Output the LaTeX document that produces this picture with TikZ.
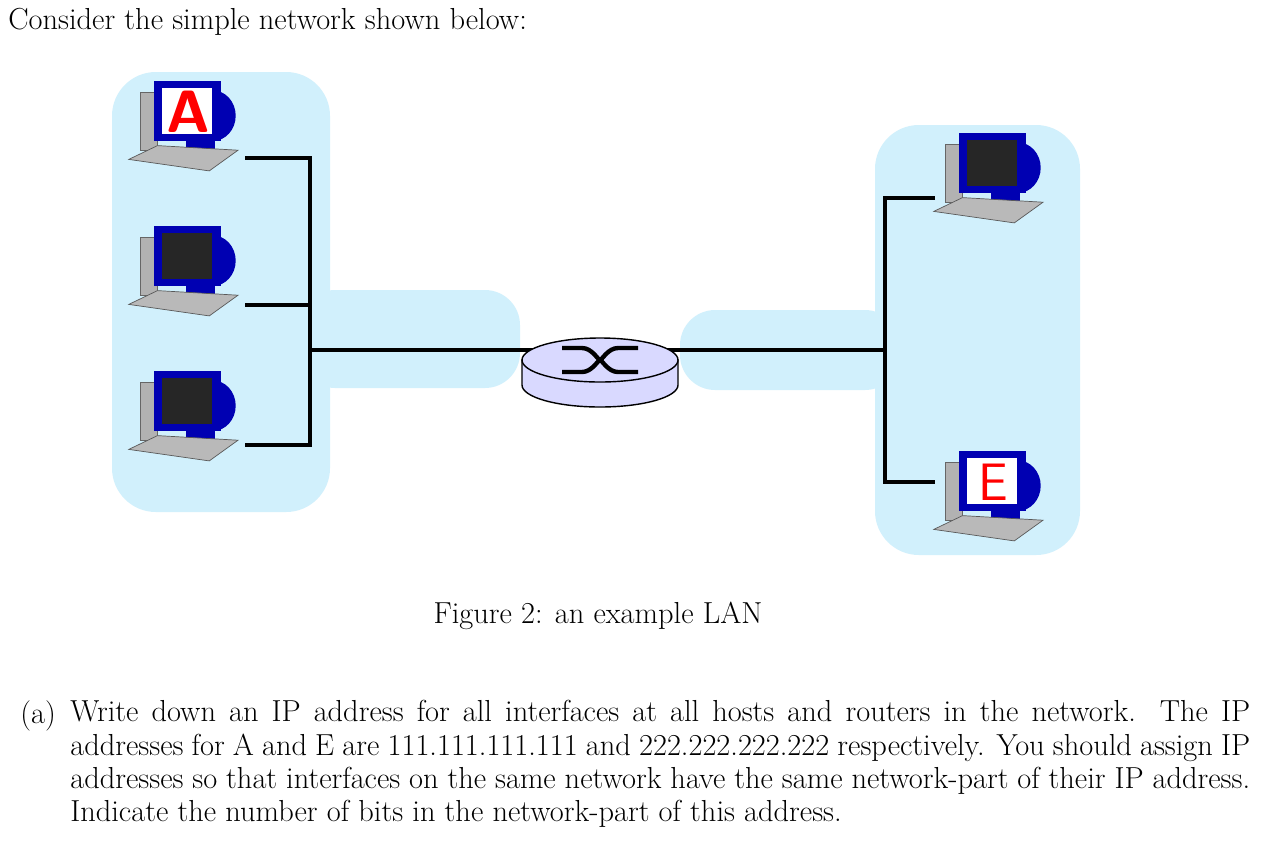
\documentclass[tikz,border=0pt]{standalone}
\usepackage{fontspec}
\begin{document}
\begin{tikzpicture}[x=0.02cm,y=-0.02cm,
  bus/.style={line width=2.2pt,black},
  blob/.style={fill=cyan!18,draw=none},
  txt/.style={font=\fontsize{17.3}{19}\selectfont,inner sep=0pt},
  pics/pc/.style={code={
    \fill[gray!60,draw=gray!80!black] (-45,-22) rectangle (-30,28);
    \fill[blue!70!black] (18,-24) arc (-90:90:20 and 22) -- cycle;
    \fill[blue!70!black] (-33,-32) rectangle (25,20);
    \fill[#1] (-26,-26) rectangle (17,14);
    \fill[blue!70!black] (-5,20) rectangle (20,30);
    \fill[gray!55,draw=gray!70!black] (-55,36) -- (-30,24) -- (40,28) -- (15,46) -- cycle;
  }}]
\useasboundingbox (0,0) rectangle (1274,860);
\fill[white] (0,0) rectangle (1274,860);
% blobs
\fill[blob,rounded corners=25] (112,72) rectangle (330,512);
\fill[blob,rounded corners=20] (300,290) rectangle (520,388);
\fill[blob,rounded corners=25] (875,125) rectangle (1080,555);
\fill[blob,rounded corners=20] (680,310) rectangle (900,390);
% nodes
\coordinate (a) at (245,158); \coordinate (b) at (245,305); \coordinate (c) at (245,445);
\coordinate (d) at (935,198); \coordinate (e) at (935,482);
\coordinate (lt) at (310,158); \coordinate (lb) at (310,445); \coordinate (lm) at (310,350);
\coordinate (rt) at (885,198); \coordinate (rb) at (885,482); \coordinate (rm) at (885,350);
\node[inner sep=0pt] (r) at (600,360) {};
\draw[bus] (a) -- (lt) -- (lb) -- (c);
\draw[bus] (b) -- (310,305);
\draw[bus] (lm) -- (rm);
\draw[bus] (d) -- (rt) -- (rb) -- (e);
% computers
\pic[scale=1.15] at (192,118) {pc=white};
\node[red,font=\sffamily\bfseries\fontsize{34}{34}\selectfont] (A) at (188,112) {A};
\pic[scale=1.15] at (192,263) {pc=black!85};
\pic[scale=1.15] at (192,408) {pc=black!85};
\pic[scale=1.15] at (997,170) {pc=black!85};
\pic[scale=1.15] at (997,488) {pc=white};
\node[red,font=\sffamily\fontsize{30}{30}\selectfont] (E) at (993,482) {E};
% router
\fill[blue!15,draw=black,thick] (522,360) -- (522,385) arc (180:0:78 and 22) -- (678,360) -- cycle;
\fill[blue!15,draw=black,thick] (r) ellipse (78 and 22);
\draw[line width=2.5pt] (562,348) -- (582,348) .. controls (592,348) and (598,360) .. (600,360) .. controls (602,360) and (608,372) .. (618,372) -- (638,372);
\draw[line width=2.5pt] (562,372) -- (582,372) .. controls (592,372) and (598,360) .. (600,360) .. controls (602,360) and (608,348) .. (618,348) -- (638,348);
% texts
\node[txt,anchor=west] (t1) at (8,22) {Consider the simple network shown below:};
\node[txt] (cap) at (598,616) {Figure 2: an example LAN};
\node[txt,anchor=north west] (lbl) at (20,700) {(a)};
\node[txt,anchor=north west,text width=23.6cm,align=justify] (p) at (70,700)
 {Write down an IP address for all interfaces at all hosts and routers in the network. The IP\linebreak addresses for A and E are 111.111.111.111 and 222.222.222.222 respectively. You should assign IP\linebreak addresses so that interfaces on the same network have the same network-part of their IP address.\linebreak Indicate the number of bits in the network-part of this address.};
\end{tikzpicture}
\end{document}
